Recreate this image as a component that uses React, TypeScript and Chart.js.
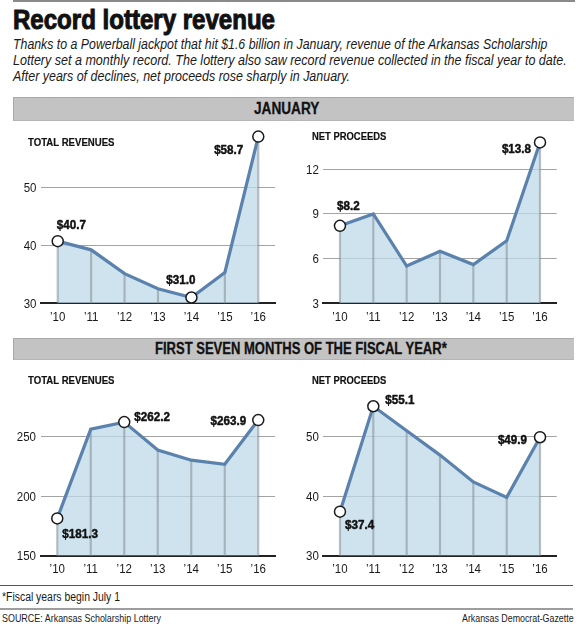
import React, { useEffect, useLayoutEffect, useRef } from "react";
import { Chart, registerables } from "chart.js";

Chart.register(...registerables);

// ---------- data ----------
const years = ["’10", "’11", "’12", "’13", "’14", "’15", "’16"];

const janRevenue = [40.7, 39.2, 35.1, 32.5, 31.0, 35.3, 58.7];
const janRevenueLabels = ["$40.7", null, null, null, "$31.0", null, "$58.7"];
const janRevenueTicks = [30, 40, 50];

const janProceeds = [8.2, 9.0, 5.5, 6.5, 5.6, 7.2, 13.8];
const janProceedsLabels = ["$8.2", null, null, null, null, null, "$13.8"];
const janProceedsTicks = [3, 6, 9, 12];

const fyRevenue = [181.3, 256.2, 262.2, 238.8, 230.2, 226.8, 263.9];
const fyRevenueLabels = ["$181.3", null, "$262.2", null, null, null, "$263.9"];
const fyRevenueTicks = [150, 200, 250];

const fyProceeds = [37.4, 55.1, 51.0, 46.9, 42.4, 39.8, 49.9];
const fyProceedsLabels = ["$37.4", "$55.1", null, null, null, null, "$49.9"];
const fyProceedsTicks = [30, 40, 50];

// ---------- style ----------
const FONT = '"Liberation Sans", Arial, Helvetica, sans-serif';
const LINE_COLOR = "#5a82ad";
const FILL_COLOR = "rgba(190,218,232,0.75)";
const DROP_COLOR = "rgba(130,140,148,0.55)";
const GRID_COLOR = "#a3a3a3";
const TEXT_COLOR = "#1a1a1a";

type Placement = { dx: number; dy: number; align: CanvasTextAlign };

interface PanelSpec {
  title: string;
  values: number[];
  labels: (string | null)[];
  ticks: number[];
  min: number;
  max: number;
  box: { x: number; y: number; w: number; h: number };
  area: { left: number; top: number; right: number; bottom: number };
  titlePos: { x: number; cy: number; w: number };
  placements: Record<number, Placement>;
}

const panels: PanelSpec[] = [
  {
    title: "TOTAL REVENUES",
    values: janRevenue,
    labels: janRevenueLabels,
    ticks: janRevenueTicks,
    min: 30,
    max: 60,
    box: { x: 0, y: 122, w: 290, h: 210 },
    area: { left: 41, top: 124.5, right: 275, bottom: 303.3 },
    titlePos: { x: 28, cy: 141.7, w: 86.5 },
    placements: {
      0: { dx: -1, dy: -17, align: "left" },
      4: { dx: 4, dy: -18, align: "right" },
      6: { dx: -15, dy: 13, align: "right" },
    },
  },
  {
    title: "NET PROCEEDS",
    values: janProceeds,
    labels: janProceedsLabels,
    ticks: janProceedsTicks,
    min: 3,
    max: 14.5,
    box: { x: 290, y: 122, w: 292, h: 210 },
    area: { left: 323.3, top: 132, right: 556.7, bottom: 303.3 },
    titlePos: { x: 311.7, cy: 136, w: 74.3 },
    placements: {
      0: { dx: -3, dy: -21, align: "left" },
      6: { dx: -9, dy: 6, align: "right" },
    },
  },
  {
    title: "TOTAL REVENUES",
    values: fyRevenue,
    labels: fyRevenueLabels,
    ticks: fyRevenueTicks,
    min: 150,
    max: 290,
    box: { x: 0, y: 362, w: 290, h: 220 },
    area: { left: 40.5, top: 389, right: 275, bottom: 555.7 },
    titlePos: { x: 28, cy: 379.3, w: 86.5 },
    placements: {
      0: { dx: 5, dy: 15, align: "left" },
      2: { dx: 10, dy: -6, align: "left" },
      6: { dx: -12, dy: 0, align: "right" },
    },
  },
  {
    title: "NET PROCEEDS",
    values: fyProceeds,
    labels: fyProceedsLabels,
    ticks: fyProceedsTicks,
    min: 30,
    max: 58,
    box: { x: 290, y: 362, w: 292, h: 220 },
    area: { left: 323.3, top: 389, right: 556.7, bottom: 555.7 },
    titlePos: { x: 311.7, cy: 379.3, w: 74.3 },
    placements: {
      0: { dx: 5, dy: 13, align: "left" },
      1: { dx: 12, dy: -7, align: "left" },
      6: { dx: -13, dy: 2, align: "right" },
    },
  },
];

// draw horizontally condensed text; cy = visual centre of capitals/digits
function drawText(
  ctx: CanvasRenderingContext2D,
  text: string,
  x: number,
  cy: number,
  align: CanvasTextAlign,
  size: number,
  bold: boolean,
  sx: number,
  color: string,
  stroke = 0
) {
  ctx.save();
  ctx.font = `${bold ? "bold " : ""}${size}px ${FONT}`;
  ctx.fillStyle = color;
  ctx.textAlign = align;
  ctx.textBaseline = "alphabetic";
  ctx.translate(x, cy + 0.358 * size);
  ctx.scale(sx, 1);
  ctx.fillText(text, 0, 0);
  if (stroke > 0) {
    ctx.strokeStyle = color;
    ctx.lineWidth = stroke;
    ctx.lineJoin = "round";
    ctx.strokeText(text, 0, 0);
  }
  ctx.restore();
}

function Panel({ spec }: { spec: PanelSpec }) {
  const ref = useRef<HTMLCanvasElement>(null);

  useEffect(() => {
    if (!ref.current) return;
    const { box, area } = spec;

    const textPlugin = {
      id: "panelText",
      afterDraw(chart: any) {
        const ctx = chart.ctx as CanvasRenderingContext2D;
        const xs = chart.scales.x;
        const ys = chart.scales.y;
        const ca = chart.chartArea;
        // axis tick labels
        years.forEach((lab, i) => {
          drawText(ctx, lab, xs.getPixelForTick(i), ca.bottom + 13.3, "center", 12.5, false, 0.92, TEXT_COLOR);
        });
        spec.ticks.forEach((v) => {
          drawText(ctx, String(v), ca.left - 4.5, ys.getPixelForValue(v), "right", 12.5, false, 0.92, TEXT_COLOR);
        });
        // value labels
        const meta = chart.getDatasetMeta(0);
        spec.labels.forEach((t, i) => {
          if (!t) return;
          const p = spec.placements[i];
          const el = meta.data[i];
          if (!p || !el) return;
          drawText(ctx, t, el.x + p.dx, el.y + p.dy, p.align, 13.4, true, 0.87, "#111", 0.5);
        });
      },
    };

    const chart = new Chart(ref.current, {
      type: "line",
      data: {
        labels: years,
        datasets: [
          {
            type: "line",
            data: spec.values,
            borderColor: LINE_COLOR,
            borderWidth: 3.2,
            backgroundColor: FILL_COLOR,
            fill: "start",
            tension: 0,
            pointRadius: spec.labels.map((l) => (l ? 5.5 : 0)),
            pointBackgroundColor: "#ffffff",
            pointBorderColor: "#1a1a1a",
            pointBorderWidth: 1.5,
            order: 0,
            clip: false,
          } as any,
          {
            type: "bar",
            data: spec.values,
            backgroundColor: DROP_COLOR,
            barThickness: 1.5,
            order: 1,
          } as any,
        ],
      },
      options: {
        animation: false,
        responsive: false,
        maintainAspectRatio: false,
        events: [],
        layout: {
          padding: {
            left: 0,
            top: area.top - box.y,
            right: box.x + box.w - area.right,
            bottom: 0,
          },
        },
        plugins: {
          legend: { display: false },
          tooltip: { enabled: false },
          title: { display: false },
          filler: { drawTime: "beforeDatasetsDraw" } as any,
        },
        scales: {
          x: {
            type: "category",
            offset: true,
            grid: { display: false, drawTicks: false },
            border: { display: true, color: "#222", width: 2 },
            ticks: { display: false },
            afterFit: (s: any) => {
              s.height = box.y + box.h - area.bottom;
            },
          },
          y: {
            type: "linear",
            min: spec.min,
            max: spec.max,
            grid: { color: GRID_COLOR, lineWidth: 1, drawTicks: false },
            border: { display: false },
            ticks: { display: false },
            afterBuildTicks: (s: any) => {
              s.ticks = spec.ticks.map((v) => ({ value: v }));
            },
            afterFit: (s: any) => {
              s.width = area.left - box.x;
            },
          },
        },
      },
      plugins: [textPlugin],
    });

    return () => chart.destroy();
  }, [spec]);

  return (
    <canvas
      ref={ref}
      width={spec.box.w}
      height={spec.box.h}
      style={{
        position: "absolute",
        left: spec.box.x,
        top: spec.box.y,
        width: spec.box.w,
        height: spec.box.h,
      }}
    />
  );
}

// HTML text squeezed to a given width; cy = visual centre of capitals
function FitText({
  text,
  left,
  cy,
  width,
  size,
  bold,
  italic,
  color,
  stroke,
}: {
  text: string;
  left: number;
  cy: number;
  width: number;
  size: number;
  bold?: boolean;
  italic?: boolean;
  color?: string;
  stroke?: number;
}) {
  const ref = useRef<HTMLSpanElement>(null);
  useLayoutEffect(() => {
    const el = ref.current;
    if (!el) return;
    el.style.transform = "none";
    const w = el.getBoundingClientRect().width;
    if (w > 0) el.style.transform = `scaleX(${width / w})`;
  });
  const c = color || TEXT_COLOR;
  return (
    <span
      ref={ref}
      style={{
        position: "absolute",
        left,
        top: cy - 0.4885 * size,
        fontFamily: FONT,
        fontSize: size,
        lineHeight: `${size}px`,
        fontWeight: bold ? "bold" : "normal",
        fontStyle: italic ? "italic" : "normal",
        color: c,
        whiteSpace: "nowrap",
        transformOrigin: "left top",
        display: "block",
        WebkitTextStroke: stroke ? `${stroke}px ${c}` : undefined,
      }}
    >
      {text}
    </span>
  );
}

function SectionBar({ top, height }: { top: number; height: number }) {
  return (
    <div
      style={{
        position: "absolute",
        left: 13,
        top,
        width: 561,
        height,
        boxSizing: "border-box",
        background: "#c3c3c3",
        borderTop: "1px solid #a9a9a9",
        borderLeft: "1px solid #a9a9a9",
        borderBottom: "1px solid #b5b5b5",
      }}
    />
  );
}

export default function App() {
  return (
    <div
      style={{
        position: "absolute",
        left: 0,
        top: 0,
        width: 582,
        height: 637,
        background: "#fff",
        overflow: "hidden",
        fontFamily: FONT,
        color: TEXT_COLOR,
      }}
    >
      <div style={{ position: "absolute", left: 13, top: 0, width: 562, height: 2, background: "#8a8a8a" }} />
      <FitText text="Record lottery revenue" left={13} cy={19.7} width={262} size={27} bold color="#111" stroke={1} />
      <FitText
        text="Thanks to a Powerball jackpot that hit $1.6 billion in January, revenue of the Arkansas Scholarship"
        left={13}
        cy={44.3}
        width={534.3}
        size={14}
        italic
      />
      <FitText
        text="Lottery set a monthly record. The lottery also saw record revenue collected in the fiscal year to date."
        left={13}
        cy={60.3}
        width={553.7}
        size={14}
        italic
      />
      <FitText
        text="After years of declines, net proceeds rose sharply in January."
        left={13}
        cy={76.3}
        width={337}
        size={14}
        italic
      />

      <SectionBar top={97.3} height={23.4} />
      <FitText text="JANUARY" left={254} cy={109} width={65.3} size={16} bold color="#111" stroke={0.3} />
      <SectionBar top={337.7} height={22.5} />
      <FitText
        text="FIRST SEVEN MONTHS OF THE FISCAL YEAR*"
        left={155}
        cy={349}
        width={291.7}
        size={16}
        bold
        color="#111"
        stroke={0.3}
      />

      {panels.map((p, i) => (
        <Panel key={i} spec={p} />
      ))}
      {panels.map((p, i) => (
        <FitText
          key={"t" + i}
          text={p.title}
          left={p.titlePos.x}
          cy={p.titlePos.cy}
          width={p.titlePos.w}
          size={11.6}
          bold
          color="#111"
          stroke={0.2}
        />
      ))}

      <div style={{ position: "absolute", left: 0, top: 584.5, width: 573, height: 1.5, background: "#555" }} />
      <FitText text="*Fiscal years begin July 1" left={2} cy={597} width={118} size={12.5} />
      <div style={{ position: "absolute", left: 0, top: 607.5, width: 573, height: 2, background: "#9d9d9d" }} />
      <FitText text="SOURCE: Arkansas Scholarship Lottery" left={2} cy={619} width={159} size={11.5} />
      <FitText text="Arkansas Democrat-Gazette" left={461.7} cy={619} width={111.6} size={11.5} />
    </div>
  );
}
